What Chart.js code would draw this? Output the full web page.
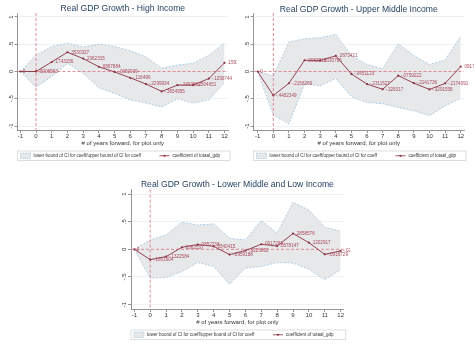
<!DOCTYPE html>
<html>
<head>
<meta charset="utf-8">
<script src="https://cdn.jsdelivr.net/npm/chart.js@4.4.1/dist/chart.umd.min.js"></script>
<style>
  html, body { margin: 0; padding: 0; background: #fff; }
  #wrap { position: relative; width: 474px; height: 346px; overflow: hidden; background: #fff; }
  #wrap canvas { position: absolute; }
</style>
</head>
<body>
<div id="wrap">
  <canvas id="high" width="237" height="173" style="left:0;top:0"></canvas>
  <canvas id="upper" width="237" height="173" style="left:237px;top:0"></canvas>
  <canvas id="lower" width="237" height="168" style="left:113px;top:178px"></canvas>
</div>
<script>
// years relative to the event
const years = [-1, 0, 1, 2, 3, 4, 5, 6, 7, 8, 9, 10, 11, 12];
const yTicks = [-1, -0.5, 0, 0.5, 1];

// High income
const highCoef = [0, 0.0006563, 0.1743156, 0.3530327, 0.2362315, 0.0867884, -0.0082939, -0.116496, -0.2299934, -0.3654955, -0.2493862, -0.2504651, -0.1290744, 0.1591283];
const highLower = [0, -0.29, -0.09, 0.15, -0.03, -0.30, -0.40, -0.52, -0.58, -0.65, -0.50, -0.58, -0.52, -0.20];
const highUpper = [0, 0.30, 0.46, 0.52, 0.45, 0.50, 0.46, 0.38, 0.27, 0.06, 0.12, 0.15, 0.30, 0.52];

// Upper middle income
const upperCoef = [0, -0.4402349, -0.2158269, 0.2062216, 0.2030786, 0.2873421, -0.0451123, -0.2311527, -0.326317, -0.0759222, -0.2141736, -0.3291558, -0.2174091, 0.0917316];
const upperLower = [0, -0.80, -0.96, -0.23, -0.26, -0.13, -0.46, -0.57, -0.59, -0.66, -0.72, -0.81, -0.63, -0.49];
const upperUpper = [0, -0.08, 0.54, 0.60, 0.62, 0.68, 0.29, 0.13, 0.05, 0.51, 0.29, 0.13, 0.21, 0.65];

// Lower middle and low income
const lowCoef = [0, -0.1861604, -0.1322584, 0.0362537, 0.0852738, 0.0540415, -0.0959188, -0.0223862, 0.0917292, 0.0578147, 0.2858576, 0.1202917, -0.0916729, -0.0286112];
const lowLower = [0, -0.52, -0.51, -0.40, -0.24, -0.31, -0.63, -0.34, -0.31, -0.24, -0.25, -0.36, -0.55, -0.37];
const lowUpper = [0, 0.17, 0.26, 0.49, 0.44, 0.46, 0.20, 0.17, 0.52, 0.29, 0.85, 0.71, 0.40, 0.33];

const FONT = '"Liberation Sans", Arial, sans-serif';
const coefColor = '#8a2f3e';
const labelColor = '#a8485a';
const refColor = '#e07f8c';
const bandFill = '#e7e8ea';
const bandLine = '#9ec3e0';
const axisColor = '#7a7a7a';

// stata style number: no leading zero, trailing zeros dropped
const stataFmt = (v) => {
    if (v === 0) return '0';
    let s = v.toFixed(7).replace(/0+$/, '').replace(/\.$/, '');
    return s.replace(/^(-?)0\./, '$1.');
};

const toPoints = (vals) => years.map((x, i) => ({ x: x, y: vals[i] }));

const decor = (title, titleY) => ({
    id: 'decor',
    beforeDatasetDraw(chart, args) {
        if (args.index !== 0) return;
        // reference lines at y = 0 and x = 0
        const { ctx, chartArea, scales } = chart;
        const y0 = scales.y.getPixelForValue(0);
        const x0 = scales.x.getPixelForValue(0);
        ctx.save();
        ctx.strokeStyle = refColor;
        ctx.lineWidth = 0.9;
        ctx.setLineDash([3, 2]);
        ctx.beginPath();
        ctx.moveTo(chartArea.left, y0);
        ctx.lineTo(chartArea.right, y0);
        ctx.moveTo(x0, chartArea.top);
        ctx.lineTo(x0, chartArea.bottom);
        ctx.stroke();
        ctx.restore();
    },
    afterDatasetsDraw(chart) {
        // value labels right of each coefficient point
        const { ctx } = chart;
        const meta = chart.getDatasetMeta(0);
        const vals = chart.data.datasets[0].data;
        ctx.save();
        ctx.font = '4.6px ' + FONT;
        ctx.fillStyle = labelColor;
        ctx.textAlign = 'left';
        ctx.textBaseline = 'middle';
        meta.data.forEach((pt, i) => {
            ctx.fillText(stataFmt(vals[i].y), pt.x + 2.5, pt.y);
        });
        ctx.restore();
    },
    afterDraw(chart) {
        const { ctx, chartArea, scales } = chart;
        ctx.save();
        // title
        ctx.font = '8.6px ' + FONT;
        ctx.fillStyle = '#1f3b5c';
        ctx.textAlign = 'center';
        ctx.textBaseline = 'middle';
        ctx.fillText(title, (chartArea.left + chartArea.right) / 2, titleY);

        // rotated y tick labels
        ctx.font = '6px ' + FONT;
        ctx.fillStyle = '#333';
        yTicks.forEach((v) => {
            const y = scales.y.getPixelForValue(v);
            ctx.save();
            ctx.translate(chartArea.left - 6.5, y);
            ctx.rotate(-Math.PI / 2);
            ctx.fillText(stataFmt(v), 0, 0);
            ctx.restore();
        });

        // legend
        const top = chartArea.bottom + 21;
        const left = chartArea.left;
        ctx.strokeStyle = '#cfcfcf';
        ctx.lineWidth = 0.7;
        ctx.strokeRect(left, top, chartArea.right - left + 2, 9.5);

        ctx.fillStyle = bandFill;
        ctx.fillRect(left + 3, top + 2, 10, 5.5);
        ctx.strokeStyle = bandLine;
        ctx.setLineDash([1.5, 1]);
        ctx.strokeRect(left + 3, top + 2, 10, 5.5);
        ctx.setLineDash([]);

        ctx.font = '4.5px ' + FONT;
        ctx.fillStyle = '#333';
        ctx.textAlign = 'left';
        ctx.fillText('lower bound of CI for coeff/upper bound of CI for coeff', left + 16, top + 4.9);

        ctx.strokeStyle = coefColor;
        ctx.lineWidth = 0.8;
        ctx.beginPath();
        ctx.moveTo(left + 142, top + 4.75);
        ctx.lineTo(left + 152, top + 4.75);
        ctx.stroke();
        ctx.fillStyle = coefColor;
        ctx.beginPath();
        ctx.arc(left + 147, top + 4.75, 1.1, 0, Math.PI * 2);
        ctx.fill();
        ctx.fillStyle = '#333';
        ctx.fillText('coefficient of totaal_gdp', left + 155, top + 4.9);
        ctx.restore();
    }
});

function makePanel(id, p) {
    const canvas = document.getElementById(id);
    return new Chart(canvas, {
        type: 'line',
        data: {
            datasets: [
                {
                    label: 'coefficient of totaal_gdp',
                    data: toPoints(p.coef),
                    borderColor: coefColor,
                    backgroundColor: coefColor,
                    borderWidth: 0.9,
                    pointRadius: 1.1,
                    pointBorderWidth: 0,
                    fill: false
                },
                {
                    label: 'lower bound of CI for coeff',
                    data: toPoints(p.lo),
                    borderColor: bandLine,
                    borderWidth: 0.8,
                    borderDash: [2, 1.5],
                    pointRadius: 0,
                    fill: false
                },
                {
                    label: 'upper bound of CI for coeff',
                    data: toPoints(p.hi),
                    borderColor: bandLine,
                    backgroundColor: bandFill,
                    borderWidth: 0.8,
                    borderDash: [2, 1.5],
                    pointRadius: 0,
                    fill: '-1'
                }
            ]
        },
        options: {
            responsive: false,
            animation: false,
            layout: {
                padding: { left: 0, top: p.top, right: canvas.width - p.right, bottom: canvas.height - p.bottom - 17 }
            },
            plugins: {
                legend: { display: false },
                title: { display: false },
                tooltip: { enabled: false }
            },
            scales: {
                x: {
                    type: 'linear',
                    min: p.xMin,
                    max: p.xMax,
                    ticks: {
                        stepSize: 1,
                        includeBounds: false,
                        autoSkip: false,
                        maxRotation: 0,
                        padding: 0,
                        color: '#333',
                        font: { family: FONT, size: 6 }
                    },
                    grid: { drawOnChartArea: false, tickLength: 3, tickColor: axisColor, lineWidth: 0.8 },
                    border: { color: axisColor, width: 0.8 },
                    title: {
                        display: true,
                        text: '# of years forward, for plot only',
                        color: '#333',
                        padding: 0,
                        font: { family: FONT, size: 6 }
                    },
                    afterFit: (s) => { s.height = 17; }
                },
                y: {
                    min: p.yMin,
                    max: p.yMax,
                    ticks: { display: false, stepSize: 0.5, includeBounds: false },
                    grid: {
                        color: (c) => (c.tick && c.tick.value === 0 ? 'rgba(0,0,0,0)' : '#e9edf0'),
                        lineWidth: 0.8,
                        tickLength: 3,
                        tickColor: axisColor
                    },
                    border: { color: axisColor, width: 0.8 },
                    afterFit: (s) => { s.width = p.left; }
                }
            }
        },
        plugins: [decor(p.title, p.titleY)]
    });
}

makePanel('high', {
    title: 'Real GDP Growth - High Income', titleY: 9,
    coef: highCoef, lo: highLower, hi: highUpper,
    left: 17.5, right: 228, top: 13, bottom: 130,
    xMin: -1.18, xMax: 12.22, yMin: -1.073, yMax: 1.073
});

makePanel('upper', {
    title: 'Real GDP Growth - Upper Middle Income', titleY: 9.5,
    coef: upperCoef, lo: upperLower, hi: upperUpper,
    left: 16.5, right: 227, top: 13, bottom: 130,
    xMin: -1.27, xMax: 12.21, yMin: -1.073, yMax: 1.073
});

makePanel('lower', {
    title: 'Real GDP Growth - Lower Middle and Low Income', titleY: 7,
    coef: lowCoef, lo: lowLower, hi: lowUpper,
    left: 18, right: 230.8, top: 11.6, bottom: 131,
    xMin: -1.21, xMax: 12.2, yMin: -1.08, yMax: 1.08
});
</script>
</body>
</html>
